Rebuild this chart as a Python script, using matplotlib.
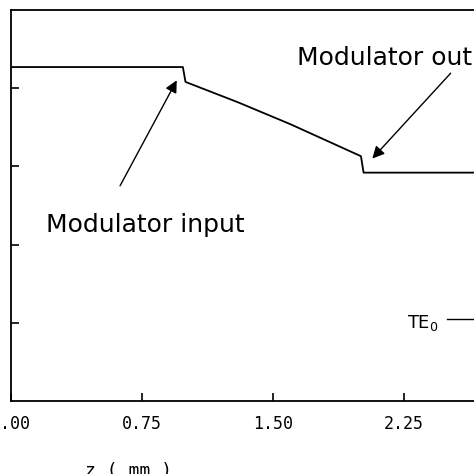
import matplotlib
matplotlib.use('Agg')
import matplotlib.pyplot as plt

# curve
z_mm = [0.0, 0.985, 1.0, 1.30, 1.60, 2.005, 2.02, 3.0]
level = [4.27, 4.27, 4.08, 3.82, 3.54, 3.13, 2.92, 2.92]
x_ticks = [0.0, 0.75, 1.50, 2.25]
y_ticks = [1, 2, 3, 4]

fig = plt.figure(figsize=(4.74, 4.74), dpi=100)
ax = fig.add_axes([0.023, 0.154, 1.105, 0.825])
ax.plot(z_mm, level, color='black', lw=1.3)
ax.set_xlim(0, 3.0)
ax.set_ylim(0, 5)
ax.set_xticks(x_ticks)
ax.set_xticklabels([f'{t:.2f}' for t in x_ticks], family='DejaVu Sans Mono', fontsize=12)
ax.set_yticks(y_ticks)
ax.set_yticklabels([])
ax.tick_params(direction='in', length=6, width=1.2, pad=10)
for s in ax.spines.values():
    s.set_linewidth(1.3)
ax.set_xlabel('z ( mm )', family='DejaVu Sans Mono', fontsize=13)
ax.xaxis.set_label_coords(0.225, -0.155)

ax.annotate('Modulator input', xy=(0.95, 4.1), xytext=(0.2, 2.25),
            fontsize=18, ha='left', va='center',
            arrowprops=dict(arrowstyle='-|>', color='black', lw=1, shrinkA=20, shrinkB=0,
                            relpos=(0.3, 1.0)))
ax.annotate('Modulator output', xy=(2.07, 3.1), xytext=(1.64, 4.38),
            fontsize=18, ha='left', va='center',
            arrowprops=dict(arrowstyle='-|>', color='black', lw=1, shrinkA=0, shrinkB=0,
                            relpos=(0.72, 0.0)))
ax.text(2.27, 1.0, r'TE$_0$', fontsize=13, ha='left', va='center')
ax.plot([2.50, 2.9], [1.05, 1.05], color='black', lw=1)

fig.savefig('out.png', dpi=100)
